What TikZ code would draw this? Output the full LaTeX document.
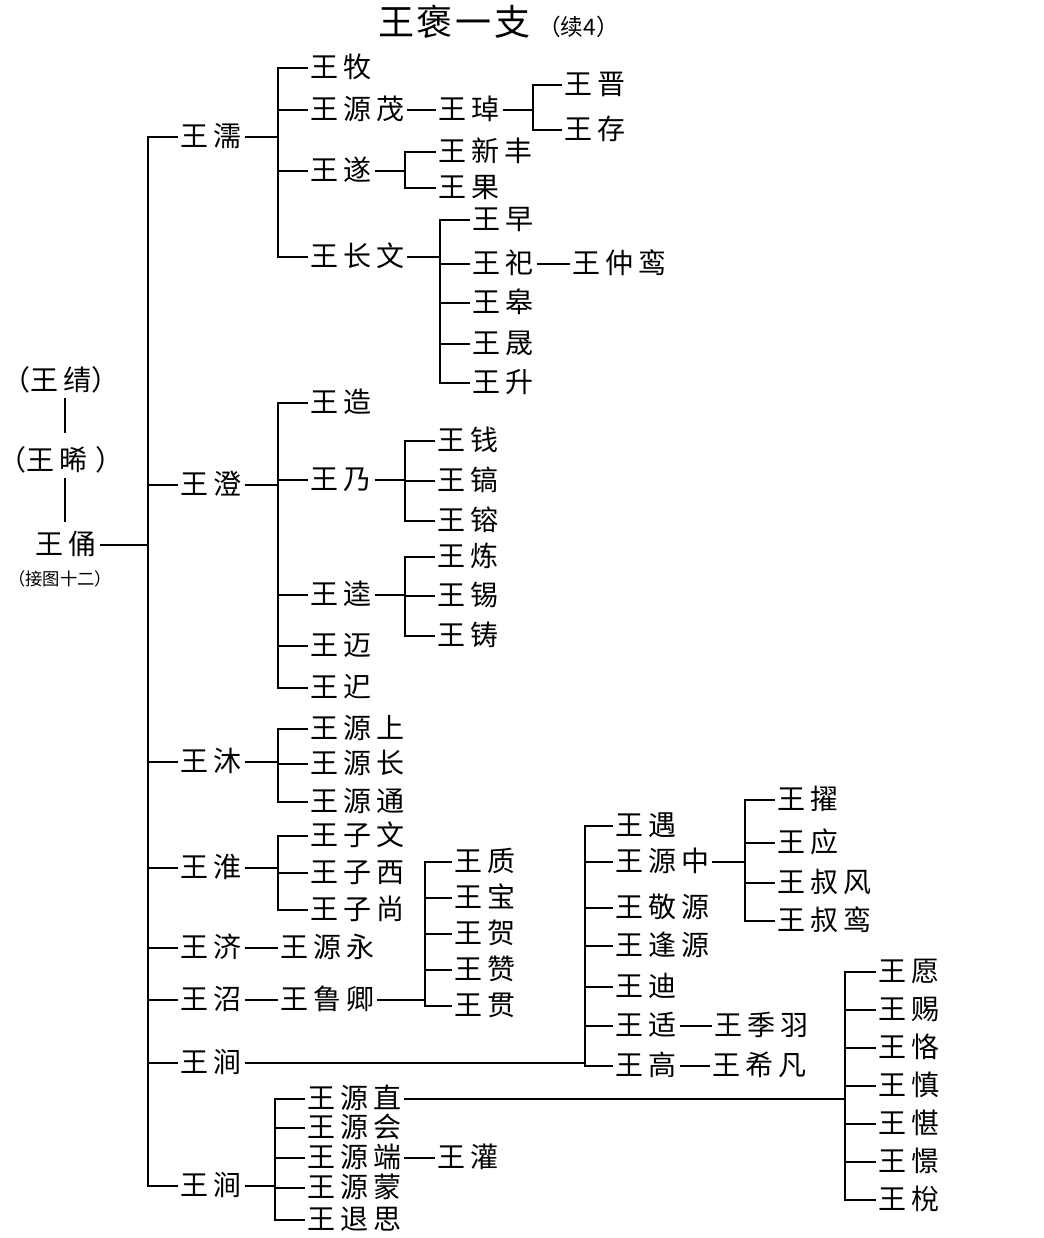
\documentclass[tikz,border=0pt]{standalone}
\usepackage{fontspec}
\newfontfamily\cjk{Noto Sans CJK SC}
\newlength\ls \setlength\ls{3.5pt}
\def\spc#1{\spcA#1\relax}
\def\spcA#1#2{#1\ifx#2\relax\else\kern\ls\expandafter\spcA\expandafter#2\fi}
\tikzset{
  nm/.style={anchor=west, inner xsep=2pt, inner ysep=0pt, text height=17pt, text depth=3pt,
    font=\cjk\fontsize{21}{21}\selectfont},
  ln/.style={line width=1.6pt},
  bar/.style={line width=1.6pt, line cap=rect}
}
\newcommand\famdraw[5]{%
  \draw[ln] (#1.east) -- (#1.east -| #2);
  \draw[bar] (#3.west -| #2) -- (#4.west -| #2);
  \foreach \c in {#5} {\draw[ln] (\c.west -| #2) -- (\c.west);}
}
\begin{document}
\begin{tikzpicture}[x=0.75pt,y=-0.75pt]
\fill[white] (0,0) rectangle (1044,1238);
\useasboundingbox (0,0) rectangle (1044,1238);

% title
\node[anchor=west, inner sep=0pt] (title) at (378,22)
  {\cjk\fontsize{27}{27}\selectfont 王\kern2pt 褒\kern2pt 一\kern2pt 支\kern6pt{\fontsize{17}{17}\selectfont （续4）}};

% ancestors
\node[nm] (xin) at (0,381) {（\spc{王𬘬}）};
\node[nm] (xi) at (-4,461) {（\spc{王晞}\kern6pt）};
\node[nm] (yong) at (33,545) {\spc{王俑}};
\node[anchor=west, inner sep=0pt, font=\cjk\fontsize{13}{13}\selectfont] (jie) at (8,579) {（接图十二）};
\draw[ln] (65,398) -- (65,433);
\draw[ln] (65,478) -- (65,522);

% coordinates of bars
\coordinate (S) at (148,0);
\coordinate (bru) at (278,0);
\coordinate (bmao) at (533,0);
\coordinate (bsui) at (405,0);
\coordinate (bcw) at (440,0);
\coordinate (bch) at (278,0);
\coordinate (bnai) at (405,0);
\coordinate (bkui) at (405,0);
\coordinate (bmu) at (278,0);
\coordinate (bhuai) at (278,0);
\coordinate (bzhao) at (425,0);
\coordinate (bjA) at (585,0);
\coordinate (byz) at (745,0);
\coordinate (bjB) at (275,0);
\coordinate (byzhi) at (845,0);

% generation 1
\node[nm] (ru) at (178,137) {\spc{王濡}};
\node[nm] (cheng) at (178,485) {\spc{王澄}};
\node[nm] (mu) at (178,762) {\spc{王沐}};
\node[nm] (huai) at (178,868) {\spc{王淮}};
\node[nm] (ji) at (178,948) {\spc{王济}};
\node[nm] (zhao) at (178,1000) {\spc{王沼}};
\node[nm] (jianA) at (178,1063) {\spc{王涧}};
\node[nm] (jianB) at (178,1186) {\spc{王涧}};

% under 王濡
\node[nm] (mu2) at (308,68) {\spc{王牧}};
\node[nm] (ymao) at (308,110) {\spc{王源茂}};
\node[nm] (sui) at (308,171) {\spc{王遂}};
\node[nm] (cw) at (308,257) {\spc{王长文}};
\node[nm] (zhuo) at (436,110) {\spc{王琸}};
\node[nm] (jin) at (562,85) {\spc{王晋}};
\node[nm] (cun) at (562,130) {\spc{王存}};
\node[nm] (xf) at (436,152) {\spc{王新丰}};
\node[nm] (guo) at (436,188) {\spc{王果}};
\node[nm] (zao) at (470,220) {\spc{王早}};
\node[nm] (si) at (470,264) {\spc{王祀}};
\node[nm] (gaoA) at (470,303) {\spc{王皋}};
\node[nm] (sheng) at (470,344) {\spc{王晟}};
\node[nm] (shengB) at (470,383) {\spc{王升}};
\node[nm] (zl) at (570,264) {\spc{王仲鸾}};

% under 王澄
\node[nm] (zaoB) at (308,403) {\spc{王造}};
\node[nm] (nai) at (308,480) {\spc{王乃}};
\node[nm] (kui) at (308,595) {\spc{王逵}};
\node[nm] (mai) at (308,646) {\spc{王迈}};
\node[nm] (qi) at (308,688) {\spc{王迉}};
\node[nm] (qian) at (435,441) {\spc{王钱}};
\node[nm] (hao) at (435,481) {\spc{王镐}};
\node[nm] (rong) at (435,521) {\spc{王镕}};
\node[nm] (lian) at (435,557) {\spc{王炼}};
\node[nm] (xi2) at (435,596) {\spc{王锡}};
\node[nm] (zhu) at (435,636) {\spc{王铸}};

% under 王沐, 王淮, 王济, 王沼
\node[nm] (ys) at (308,729) {\spc{王源上}};
\node[nm] (yc) at (308,764) {\spc{王源长}};
\node[nm] (yt) at (308,802) {\spc{王源通}};
\node[nm] (zw) at (308,836) {\spc{王子文}};
\node[nm] (zx) at (308,873) {\spc{王子西}};
\node[nm] (zs) at (308,910) {\spc{王子尚}};
\node[nm] (yy) at (278,948) {\spc{王源永}};
\node[nm] (lq) at (278,1000) {\spc{王鲁卿}};
\node[nm] (zhi) at (452,862) {\spc{王质}};
\node[nm] (bao) at (452,898) {\spc{王宝}};
\node[nm] (he) at (452,934) {\spc{王贺}};
\node[nm] (zan) at (452,970) {\spc{王赞}};
\node[nm] (guan) at (452,1006) {\spc{王贯}};

% under first 王涧
\node[nm] (yu) at (613,826) {\spc{王遇}};
\node[nm] (yz) at (613,862) {\spc{王源中}};
\node[nm] (jy) at (613,908) {\spc{王敬源}};
\node[nm] (fy) at (613,946) {\spc{王逢源}};
\node[nm] (di) at (613,987) {\spc{王迪}};
\node[nm] (kuo) at (613,1026) {\spc{王适}};
\node[nm] (gaoB) at (613,1066) {\spc{王高}};
\node[nm] (zhuoB) at (775,800) {\spc{王擢}};
\node[nm] (ying) at (775,843) {\spc{王应}};
\node[nm] (sf) at (775,883) {\spc{王叔风}};
\node[nm] (sl) at (775,921) {\spc{王叔鸾}};
\node[nm] (jiyu) at (712,1026) {\spc{王季羽}};
\node[nm] (xifan) at (710,1066) {\spc{王希凡}};

% under second 王涧
\node[nm] (yzhi) at (305,1099) {\spc{王源直}};
\node[nm] (yh) at (305,1128) {\spc{王源会}};
\node[nm] (yd) at (305,1158) {\spc{王源端}};
\node[nm] (ym) at (305,1188) {\spc{王源蒙}};
\node[nm] (ts) at (305,1220) {\spc{王退思}};
\node[nm] (guanB) at (435,1158) {\spc{王灌}};
\node[nm] (yuan) at (876,972) {\spc{王愿}};
\node[nm] (ci) at (876,1010) {\spc{王赐}};
\node[nm] (ke) at (876,1048) {\spc{王恪}};
\node[nm] (shen) at (876,1086) {\spc{王慎}};
\node[nm] (chen) at (876,1124) {\spc{王愖}};
\node[nm] (jing) at (876,1162) {\spc{王憬}};
\node[nm] (zhuoC) at (876,1200) {\spc{王梲}};

% connectors
\famdraw{yong}{S}{ru}{jianB}{ru,cheng,mu,huai,ji,zhao,jianA,jianB}
\famdraw{ru}{bru}{mu2}{cw}{mu2,ymao,sui,cw}
\draw[ln] (ymao.east) -- (zhuo.west);
\famdraw{zhuo}{bmao}{jin}{cun}{jin,cun}
\famdraw{sui}{bsui}{xf}{guo}{xf,guo}
\famdraw{cw}{bcw}{zao}{shengB}{zao,si,gaoA,sheng,shengB}
\draw[ln] (si.east) -- (zl.west);
\famdraw{cheng}{bch}{zaoB}{qi}{zaoB,nai,kui,mai,qi}
\famdraw{nai}{bnai}{qian}{rong}{qian,hao,rong}
\famdraw{kui}{bkui}{lian}{zhu}{lian,xi2,zhu}
\famdraw{mu}{bmu}{ys}{yt}{ys,yc,yt}
\famdraw{huai}{bhuai}{zw}{zs}{zw,zx,zs}
\draw[ln] (ji.east) -- (yy.west);
\draw[ln] (zhao.east) -- (lq.west);
\famdraw{lq}{bzhao}{zhi}{guan}{zhi,bao,he,zan,guan}
\famdraw{jianA}{bjA}{yu}{gaoB}{yu,yz,jy,fy,di,kuo,gaoB}
\famdraw{yz}{byz}{zhuoB}{sl}{zhuoB,ying,sf,sl}
\draw[ln] (kuo.east) -- (jiyu.west);
\draw[ln] (gaoB.east) -- (xifan.west);
\famdraw{jianB}{bjB}{yzhi}{ts}{yzhi,yh,yd,ym,ts}
\draw[ln] (yd.east) -- (guanB.west);
\famdraw{yzhi}{byzhi}{yuan}{zhuoC}{yuan,ci,ke,shen,chen,jing,zhuoC}
\end{tikzpicture}
\end{document}
